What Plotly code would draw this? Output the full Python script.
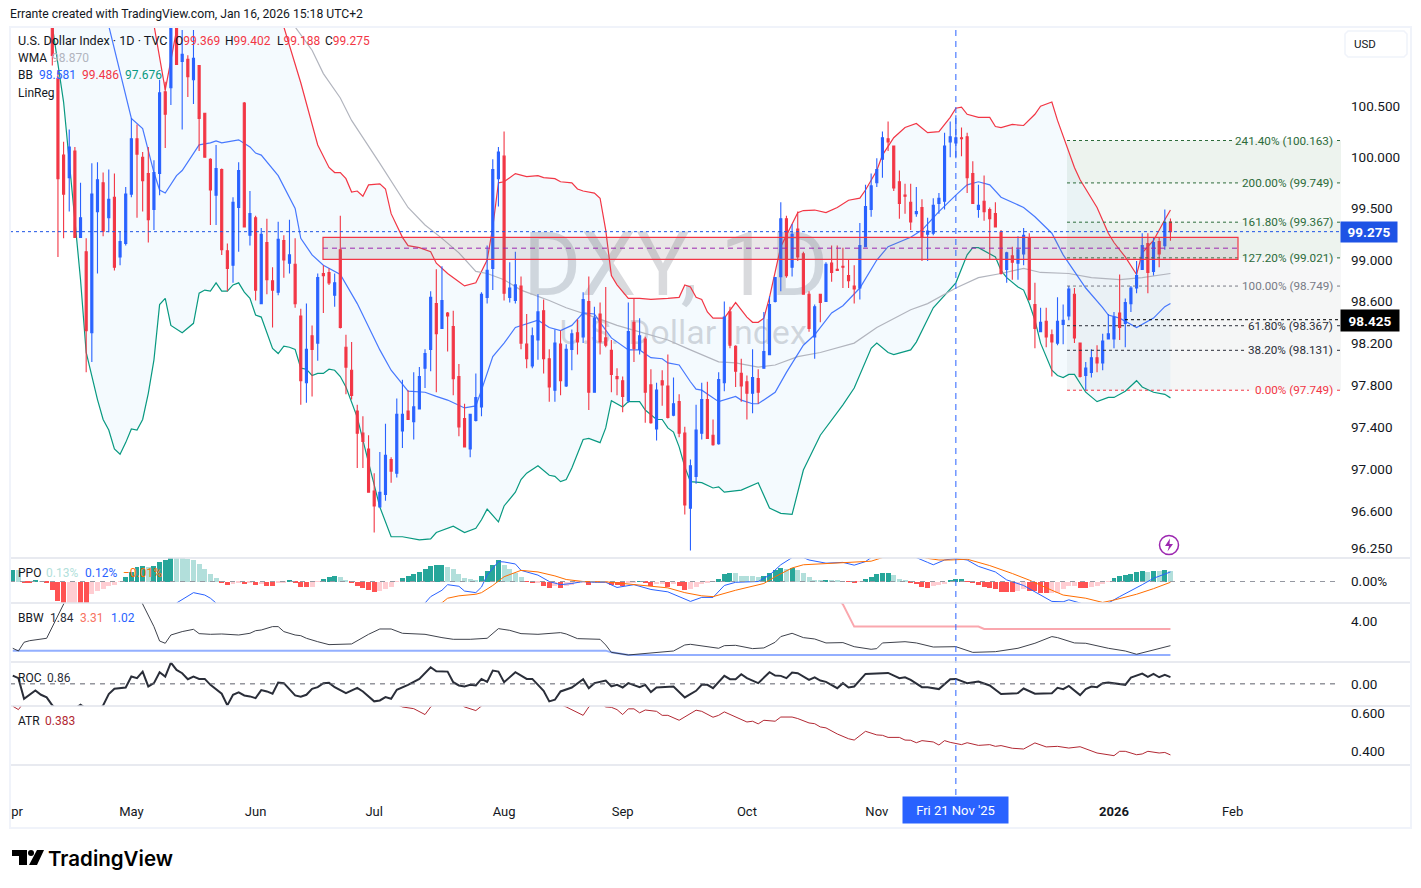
import numpy as np
import plotly.graph_objects as go

# daily candles, one value per bar
candle_open = [
    101.50,100.77,100.02,99.80,100.06,99.22,99.08,98.30,99.47,99.75,
    99.41,99.61,99.03,99.16,99.64,100.18,100.00,99.84,99.49,99.84,
    100.64,100.68,101.40,100.94,100.96,100.76,100.90,100.43,99.98,99.63,
    99.88,99.09,98.95,99.51,100.53,99.24,99.41,98.58,99.17,98.80,
    98.69,99.19,98.97,98.96,98.46,97.82,98.27,98.20,98.87,98.88,
    98.66,99.10,98.16,97.94,97.55,97.34,97.19,96.79,96.64,96.76,
    97.09,96.96,97.36,97.55,97.45,97.57,97.96,98.14,98.58,98.34,
    98.49,98.36,97.88,97.48,97.19,97.46,97.59,98.64,98.92,99.79,
    100.01,98.64,98.61,98.75,98.19,97.98,98.23,98.51,98.05,97.75,
    98.19,97.79,98.14,98.30,98.26,98.60,97.73,98.48,98.25,98.13,
    97.88,97.84,97.65,98.40,98.14,98.24,97.80,97.38,97.84,97.79,
    97.51,97.64,97.34,96.63,96.93,97.34,97.66,97.32,97.24,97.82,
    98.50,98.17,97.91,97.83,97.72,97.86,97.96,98.09,98.60,98.84,
    99.40,98.93,99.30,99.06,98.67,98.26,98.67,98.60,98.97,98.91,
    98.94,98.85,98.75,98.73,99.13,99.49,99.75,99.98,100.18,100.11,
    99.76,99.63,99.56,99.45,99.51,99.25,99.26,99.55,99.57,100.15,
    100.14,100.19,100.20,99.84,99.49,99.57,99.49,99.45,99.27,98.91,
    99.04,98.97,99.06,99.21,98.57,98.31,98.41,98.28,98.20,98.38,
    98.46,98.67,98.20,97.89,97.92,98.06,98.01,98.24,98.24,98.49,
    98.39,98.58,98.73,98.91,99.16,98.89,99.18,99.14,99.369]
candle_high = [
    101.60,100.85,100.15,100.27,100.10,99.75,99.21,99.94,99.95,99.85,
    99.88,99.84,99.28,99.71,100.38,100.32,100.05,100.10,99.97,100.76,
    100.74,101.50,101.50,101.25,101.00,101.25,100.90,100.43,99.99,100.12,
    99.89,99.16,99.61,99.95,100.54,99.67,99.43,99.31,99.40,98.93,
    99.37,99.24,99.39,99.21,98.53,98.58,98.37,98.87,98.95,98.92,
    98.87,99.43,98.28,98.21,97.61,97.50,97.32,96.96,97.16,97.43,
    97.11,97.67,97.85,97.75,97.92,97.97,98.14,98.70,98.91,98.94,
    98.50,98.51,98.00,97.62,97.52,97.91,98.69,99.14,99.98,100.10,
    100.25,98.98,99.08,98.84,98.48,98.35,98.67,98.62,98.14,98.33,
    98.32,98.19,98.33,98.43,98.69,98.84,98.55,98.59,98.74,98.23,
    97.96,97.88,98.59,98.63,98.44,98.26,97.95,97.82,97.94,98.09,
    97.87,97.71,97.40,97.09,97.61,97.82,97.83,97.47,97.92,98.60,
    98.55,98.18,98.05,97.89,98.14,97.95,98.50,98.65,98.83,99.56,
    99.43,99.35,99.47,99.08,98.70,98.57,98.67,98.98,99.14,99.14,
    99.12,99.00,98.95,99.36,99.73,99.84,99.99,100.25,100.35,100.11,
    99.87,99.74,99.74,99.71,99.59,99.41,99.60,99.65,100.24,100.35,
    100.41,100.29,100.24,99.96,99.73,99.82,99.51,99.56,99.29,99.08,
    99.13,99.23,99.31,99.26,98.78,98.54,98.54,98.33,98.64,98.57,
    98.75,98.73,98.20,98.02,98.14,98.18,98.29,98.48,98.50,98.86,
    98.63,98.75,98.99,99.26,99.26,99.22,99.22,99.49,99.402]
candle_low = [
    100.90,99.03,99.21,99.47,99.22,99.22,97.92,98.02,98.87,99.23,
    99.27,98.90,98.95,99.14,99.61,99.41,99.47,99.17,99.29,99.63,
    100.09,100.51,100.91,100.27,100.59,100.52,100.06,100.00,99.34,99.34,
    99.05,98.70,98.78,99.08,99.32,99.14,98.61,98.58,98.67,98.35,
    98.66,98.83,98.87,98.54,97.61,97.63,97.69,98.03,98.49,98.76,
    98.55,98.34,97.71,97.66,97.01,97.01,96.78,96.40,96.64,96.70,
    96.87,96.92,97.20,97.47,97.28,97.57,97.77,97.93,97.73,98.34,
    98.12,97.70,97.31,97.21,97.11,97.45,97.50,98.58,98.71,99.52,
    98.61,98.59,98.58,98.14,97.96,97.96,98.04,97.91,97.64,97.64,
    97.70,97.78,97.94,98.09,98.20,97.56,97.73,98.09,98.16,97.73,
    97.70,97.54,97.63,98.02,98.09,97.44,97.43,97.27,97.60,97.48,
    97.50,97.30,96.57,96.23,96.86,97.28,97.29,97.22,97.23,97.74,
    98.15,97.78,97.64,97.47,97.53,97.62,97.96,98.09,98.59,98.70,
    98.83,98.84,98.99,98.67,98.31,98.05,98.40,98.60,98.79,98.90,
    98.73,98.73,98.58,98.62,99.13,99.42,99.71,99.80,100.06,99.67,
    99.40,99.45,99.29,99.42,98.99,98.99,99.24,99.45,99.49,100.00,
    99.99,100.01,99.65,99.55,99.41,99.38,99.01,99.32,98.86,98.78,
    98.81,98.81,98.95,98.61,98.15,98.31,98.16,97.88,98.18,98.19,
    98.42,98.20,97.87,97.75,97.87,97.92,97.94,98.24,98.15,98.23,
    98.16,98.50,98.68,98.91,98.68,98.85,98.93,99.10,99.188]
candle_close = [
    101.00,99.79,99.64,100.10,99.22,99.41,98.32,99.64,99.78,99.28,
    99.59,98.93,99.18,99.64,100.18,100.03,99.77,99.39,99.85,100.63,
    100.42,101.35,100.91,101.01,100.79,100.97,100.38,100.00,99.68,99.89,
    99.10,98.92,99.56,99.87,99.32,99.45,98.71,99.25,98.81,98.71,
    99.20,99.00,99.05,98.58,97.84,98.14,98.14,98.83,98.85,98.78,
    98.78,98.35,97.97,97.70,97.34,97.26,96.78,96.65,96.78,97.13,
    96.98,97.52,97.52,97.47,97.59,97.88,98.10,98.64,98.29,98.61,
    98.46,97.86,97.40,97.21,97.52,97.68,98.67,98.90,99.88,100.05,
    98.68,98.73,98.76,98.20,98.05,98.27,98.50,98.05,97.78,98.20,
    97.84,98.14,98.29,98.21,98.62,97.73,98.44,98.21,98.18,97.90,
    97.86,97.69,98.31,98.15,98.27,97.73,97.44,97.75,97.80,97.49,
    97.62,97.34,96.66,97.03,97.37,97.66,97.29,97.23,97.85,98.45,
    98.18,97.93,97.79,97.72,97.87,97.73,98.12,98.57,98.83,99.40,
    98.85,99.25,99.03,98.67,98.34,98.55,98.59,98.96,98.88,98.90,
    98.93,98.80,98.72,99.14,99.52,99.72,99.88,100.19,100.15,99.70,
    99.55,99.62,99.37,99.47,99.22,99.28,99.53,99.60,100.11,100.20,
    100.19,100.18,99.80,99.55,99.53,99.47,99.40,99.32,98.87,99.07,
    98.98,99.10,99.24,98.62,98.34,98.40,98.26,98.21,98.41,98.42,
    98.72,98.25,97.88,97.96,98.06,98.01,98.22,98.29,98.45,98.35,
    98.59,98.73,98.85,99.14,98.88,99.17,99.06,99.36,99.275]
candle_bars = list(range(len(candle_open)))

# indicator lines as (bar, value)
bb_upper = [(-1,102.0),(14,102.0),(18,101.3),(20,100.66),(21,100.95),(22,101.25),(24,101.7),(40,101.7),(41,101.28),(44,100.73),(47,100.12),(49,99.90),(50,99.85),(51,99.85),(52,99.79),(53,99.66),(54,99.67),(55,99.62),(56,99.73),(58,99.74),(59,99.69),(60,99.45),(62,99.22),(63,99.14),(65,99.12),(67,99.08),(68,98.97),(70,98.87),(72,98.79),(73,98.75),(75,98.78),(77,99.00),(78,99.32),(79,99.75),(80,99.76),(82,99.84),(84,99.81),(86,99.82),(87,99.80),(89,99.79),(90,99.76),(92,99.75),(93,99.69),(94,99.67),(96,99.65),(97,99.60),(98,99.29),(99,98.85),(100,98.76),(102,98.63),(104,98.63),(106,98.62),(109,98.63),(111,98.64),(112,98.76),(113,98.74),(114,98.64),(115,98.62),(116,98.50),(117,98.44),(119,98.44),(121,98.59),(123,98.45),(124,98.40),(125,98.40),(126,98.44),(127,98.64),(128,98.87),(129,99.13),(132,99.46),(133,99.48),(135,99.485),(137,99.46),(139,99.51),(141,99.58),(143,99.60),(144,99.68),(146,99.87),(147,100.02),(149,100.19),(151,100.29),(153,100.33),(155,100.24),(157,100.25),(159,100.39),(160,100.48),(161,100.49),(162,100.42),(164,100.39),(166,100.39),(167,100.30),(168,100.29),(170,100.32),(172,100.31),(174,100.42),(175,100.50),(177,100.54),(178,100.36),(179,100.20),(181,99.90),(182,99.78),(185,99.51),(187,99.26),(188,99.17),(190,99.03),(192,98.86),(193,99.07),(195,99.19),(197,99.39),(198,99.486)]
bb_lower = [(-1,101.8),(0,101.29),(2,100.54),(4,99.34),(5,98.81),(6,98.11),(8,97.66),(9,97.47),(10,97.37),(11,97.19),(12,97.14),(13,97.25),(14,97.38),(15,97.37),(16,97.47),(17,97.72),(18,98.04),(19,98.57),(20,98.63),(21,98.37),(23,98.30),(25,98.39),(26,98.68),(27,98.71),(28,98.70),(29,98.78),(30,98.70),(31,98.70),(32,98.76),(33,98.78),(34,98.69),(35,98.63),(36,98.47),(37,98.45),(39,98.15),(40,98.10),(41,98.17),(42,98.16),(43,98.14),(44,97.96),(45,97.95),(46,97.89),(47,97.91),(48,97.91),(49,97.95),(50,97.94),(51,97.88),(52,97.78),(54,97.49),(56,97.06),(58,96.64),(60,96.36),(62,96.36),(65,96.33),(67,96.34),(68,96.40),(71,96.46),(73,96.40),(75,96.44),(76,96.52),(77,96.62),(79,96.50),(80,96.65),(82,96.78),(83,96.90),(84,96.96),(86,97.03),(88,96.94),(89,96.93),(90,96.88),(91,96.90),(92,97.01),(94,97.28),(95,97.29),(97,97.25),(98,97.39),(99,97.65),(101,97.59),(102,97.64),(104,97.64),(105,97.56),(107,97.47),(108,97.47),(109,97.39),(110,97.35),(111,97.21),(112,97.02),(113,96.88),(115,96.87),(117,96.82),(118,96.83),(119,96.78),(122,96.80),(125,96.87),(127,96.63),(129,96.58),(131,96.57),(133,96.99),(136,97.32),(140,97.61),(142,97.77),(145,98.15),(146,98.20),(148,98.11),(149,98.09),(152,98.135),(153,98.21),(156,98.54),(160,98.78),(162,99.05),(163,99.12),(164,99.12),(166,99.06),(167,99.03),(168,98.90),(169,98.83),(171,98.74),(172,98.71),(173,98.58),(174,98.42),(175,98.20),(177,97.94),(178,97.89),(179,97.87),(180,97.90),(181,97.90),(183,97.73),(185,97.64),(187,97.68),(188,97.68),(190,97.74),(192,97.84),(193,97.78),(195,97.73),(197,97.71),(198,97.676)]
bb_basis = [(8,101.9),(10,101.29),(14,100.38),(16,100.28),(18,99.85),(19,99.68),(20,99.65),(22,99.82),(23,99.87),(26,100.12),(28,100.14),(29,100.16),(30,100.14),(33,100.17),(35,100.10),(36,100.04),(37,100.02),(40,99.82),(43,99.50),(44,99.21),(46,99.05),(48,98.95),(51,98.86),(54,98.58),(58,98.135),(60,97.94),(63,97.74),(66,97.73),(68,97.69),(70,97.655),(73,97.58),(75,97.60),(76,97.75),(78,98.07),(80,98.20),(82,98.35),(86,98.42),(88,98.35),(90,98.32),(92,98.37),(94,98.49),(96,98.48),(97,98.40),(99,98.25),(102,98.135),(104,98.135),(106,98.06),(108,98.05),(109,98.01),(111,97.99),(113,97.83),(114,97.76),(115,97.75),(118,97.64),(121,97.69),(122,97.655),(124,97.62),(125,97.62),(128,97.73),(130,97.92),(133,98.18),(135,98.28),(138,98.49),(140,98.56),(143,98.73),(146,99.00),(148,99.13),(152,99.22),(154,99.29),(157,99.47),(160,99.63),(162,99.73),(164,99.76),(166,99.73),(168,99.61),(172,99.51),(174,99.42),(177,99.26),(179,99.05),(183,98.73),(186,98.54),(187,98.47),(189,98.44),(192,98.35),(195,98.44),(197,98.55),(198,98.581)]
wma_line = [(40,101.7),(43,101.28),(46,101.05),(48,100.82),(51,100.58),(53,100.36),(58,99.94),(63,99.51),(66,99.34),(69,99.21),(72,99.07),(75,98.89),(77,98.87),(80,98.81),(83,98.71),(88,98.61),(91,98.54),(94,98.49),(96,98.45),(100,98.37),(104,98.31),(109,98.23),(113,98.135),(118,98.02),(121,98.01),(125,97.97),(128,97.99),(132,98.07),(136,98.11),(142,98.20),(146,98.35),(152,98.52),(155,98.58),(160,98.73),(164,98.83),(168,98.87),(172,98.92),(175,98.88),(180,98.87),(184,98.83),(189,98.81),(193,98.83),(198,98.87)]

# PPO histogram starts 7 bars left of the first visible candle
ppo_hist = [
    .15,.14,-.01,-.02,.02,.005,-.025,
    -.11,-.24,-.30,-.29,-.28,-.30,-.31,-.16,-.12,-.09,-.06,-.05,-.005,
    .06,.12,.18,.19,.18,.20,.25,.27,.30,.295,.29,.285,.27,.22,.155,.09,.045,
    -.01,-.05,-.03,-.02,-.035,-.025,-.05,-.03,-.055,-.056,-.02,-.012,.008,-.016,-.07,-.072,-.068,-.004,
    .033,.055,.07,.058,.016,-.012,-.055,-.083,-.11,-.133,-.125,-.09,-.07,-.004,
    .04,.063,.09,.125,.16,.20,.205,.21,.183,.155,.09,.038,.03,.025,.075,.13,.21,.27,.205,.155,.11,.055,
    -.004,-.025,-.02,-.055,-.08,-.055,-.08,-.058,-.046,-.025,-.012,-.038,-.016,-.012,-.011,-.042,-.043,-.058,-.016,-.015,.004,
    -.016,-.055,-.03,-.028,-.063,-.033,-.058,-.11,-.10,-.067,-.033,-.025,-.004,
    .033,.10,.11,.108,.075,.07,.063,.058,.075,.11,.14,.17,.155,.17,.14,.105,.058,.025,.012,.013,.008,.007,.006,
    -.004,-.012,-.004,.03,.055,.088,.104,.105,.08,.03,.008,-.016,-.033,-.07,-.08,-.058,-.05,-.03,.02,.03,.031,
    -.004,-.02,-.05,-.07,-.083,-.088,-.133,-.134,-.135,-.117,-.092,-.117,-.125,-.14,-.15,-.14,-.139,-.092,-.058,-.057,-.083,-.084,-.067,-.058,-.033,-.004,
    .04,.063,.083,.096,.117,.1375,.125,.138,.136,.139,.13]
ppo_bars = list(range(-7, len(ppo_hist) - 7))
ppo_line = [(-7,-.6),(10,-.9),(20,-.5),(22,-.27),(25,-.14),(27,-.17),(28,-.21),(29,-.27),(32,-.6),(50,-.8),(62,-.5),(66,-.27),(67,-.19),(69,-.11),(70,-.04),(72,-.06),(73,-.12),(75,-.14),(76,-.07),(77,.08),(79,.25),(80,.245),(82,.22),(83,.14),(86,.08),(88,0),(90,-.04),(92,-.025),(94,0),(96,-.01),(98,-.01),(100,-.075),(103,-.04),(106,-.10),(109,-.13),(111,-.19),(113,-.25),(115,-.2),(117,-.2),(119,-.05),(121,-.01),(125,0),(127,.08),(129,.21),(131,.30),(133,.30),(134,.27),(137,.23),(140,.24),(142,.205),(144,.25),(145,.30),(148,.38),(151,.38),(153,.30),(155,.24),(156,.21),(158,.27),(160,.29),(162,.27),(164,.19),(167,.12),(169,.02),(172,-.05),(175,-.17),(177,-.25),(179,-.255),(180,-.23),(182,-.27),(184,-.33),(186,-.31),(187,-.267),(189,-.19),(193,-.04),(195,.04),(198,.12)]
ppo_signal = [(-7,-.5),(30,-.5),(60,-.5),(69,-.267),(70,-.21),(72,-.18),(75,-.16),(76,-.14),(78,-.05),(80,.06),(82,.12),(83,.14),(86,.12),(89,.07),(91,.025),(94,0),(98,-.004),(102,-.03),(105,-.05),(109,-.08),(112,-.14),(115,-.18),(117,-.19),(121,-.11),(126,-.025),(128,.06),(131,.17),(133,.21),(137,.225),(142,.24),(145,.255),(147,.30),(150,.36),(153,.33),(155,.29),(157,.27),(159,.27),(162,.28),(166,.20),(170,.10),(173,.017),(177,-.11),(179,-.17),(183,-.21),(186,-.263),(188,-.233),(192,-.16),(195,-.09),(198,-.01)]

bbw_line = [(-7,1.61),(-6,1.37),(-5,2.14),(-4,2.28),(-1,2.49),(2,5.48),(3,6.5),(15,6.5),(16,5.48),(18,3.52),(19,2.25),(20,2.05),(21,2.78),(23,3.08),(25,3.28),(26,2.90),(28,2.84),(30,2.87),(33,2.78),(35,2.93),(36,3.16),(37,3.22),(39,3.52),(40,3.52),(41,3.08),(43,2.78),(44,2.72),(45,2.49),(47,2.19),(49,1.93),(53,1.99),(54,2.28),(56,2.84),(58,3.31),(60,3.31),(62,2.93),(66,2.84),(69,2.55),(71,2.40),(74,2.40),(77,2.49),(79,3.34),(81,3.19),(83,2.90),(86,2.84),(90,2.99),(91,2.87),(93,2.46),(97,2.40),(98,1.90),(99,1.25),(102,1.02),(105,1.14),(110,1.37),(112,1.90),(113,1.96),(118,1.61),(119,1.84),(121,1.87),(124,1.58),(126,1.64),(128,2.14),(129,2.64),(131,2.93),(133,2.55),(135,2.43),(137,2.08),(140,2.11),(142,1.75),(145,1.52),(146,1.58),(147,2.08),(151,2.19),(153,2.08),(156,1.72),(158,1.75),(160,1.75),(163,1.25),(167,1.31),(171,1.61),(174,2.05),(177,2.64),(178,2.55),(181,2.08),(183,2.05),(187,1.61),(190,1.37),(192,1.08),(195,1.46),(198,1.84)]
bbw_lowest = [(-7,1.40),(98,1.40),(99,1.25),(102,1.02),(198,1.02)]
bbw_highest = [(139,6.0),(140,5.48),(142,3.52),(164,3.52),(165,3.31),(198,3.31)]

roc_line = [(-7,1.07),(-6,.73),(-5,-1.92),(-3,-.85),(-2,-1.41),(-1,-1.75),(0,-2.78),(2,-4),(4,-3.2),(5,-2.7),(6,-3.2),(8,-3.5),(9,-2.78),(10,-1.32),(11,-.64),(13,-.47),(14,.94),(15,.73),(16,1.58),(17,-.34),(18,.09),(19,1.50),(20,.94),(21,2.74),(22,1.79),(23,1.37),(24,.60),(25,.94),(26,.64),(27,.64),(28,-.13),(30,-1.28),(31,-2.78),(32,-1.41),(33,-1.11),(34,-1.50),(35,-1.62),(36,-1.84),(37,-.81),(38,-.98),(39,-1.28),(40,.17),(41,.09),(42,-.77),(43,-1.50),(44,-1.67),(45,-1.41),(46,-.64),(47,-.43),(48,.09),(49,.13),(50,-.43),(51,-.77),(52,-1.20),(54,-.51),(55,-.98),(57,-2.26),(58,-2.14),(59,-1.71),(60,-1.92),(61,-.77),(63,-.13),(65,.64),(67,2.14),(68,1.62),(70,1.58),(71,.21),(72,-.21),(73,-.34),(74,-.13),(75,-.21),(76,.64),(77,.25),(78,1.71),(79,1.58),(80,.21),(82,1.50),(84,.64),(85,.64),(87,-.90),(88,-2.26),(89,-2.05),(90,-.98),(92,-.47),(94,.60),(95,-.56),(96,.09),(98,.43),(99,-.34),(100,-.13),(101,-.47),(102,.09),(104,-.43),(105,-.13),(106,-1.07),(107,-.47),(110,-.34),(112,-1.75),(114,-.90),(115,-.13),(116,-.13),(117,-.56),(119,1.03),(120,.60),(121,.60),(122,1.24),(123,.73),(124,.38),(125,.09),(127,1.50),(128,1.07),(129,1.03),(130,.73),(131,1.45),(132,1.37),(134,.51),(135,.85),(136,.43),(137,.26),(139,-.56),(140,.09),(141,-.47),(142,-.34),(144,1.28),(146,1.37),(148,1.41),(150,.73),(151,.85),(152,.51),(154,-.43),(155,-.43),(157,-.68),(159,.60),(160,.64),(162,.09),(164,.30),(166,-.21),(168,-1.32),(170,-1.24),(171,-1.20),(172,-.60),(174,-1.28),(177,-1.20),(178,-.51),(179,-.68),(180,-.26),(182,-1.45),(183,-.68),(184,-.34),(185,-.43),(186,.09),(187,.17),(190,-.13),(191,.81),(193,1.32),(194,.90),(195,1.28),(196,.85),(197,1.15),(198,.86)]

atr_line = [(-7,.639),(-6,.621),(-5,.66),(60,.66),(62,.635),(64,.626),(66,.595),(67,.635),(68,.66),(72,.66),(73,.635),(75,.616),(76,.64),(77,.66),(89,.66),(91,.635),(94,.591),(95,.635),(96,.66),(97,.66),(98,.635),(99,.633),(100,.621),(101,.595),(102,.625),(103,.625),(104,.604),(105,.619),(107,.612),(108,.591),(109,.591),(111,.565),(114,.618),(115,.612),(117,.581),(118,.591),(119,.609),(123,.556),(124,.56),(125,.546),(126,.565),(128,.56),(129,.582),(131,.582),(132,.574),(134,.551),(135,.547),(136,.53),(137,.525),(139,.493),(141,.468),(142,.461),(144,.507),(146,.488),(147,.486),(148,.475),(150,.475),(151,.461),(152,.46),(153,.447),(154,.458),(156,.451),(157,.435),(158,.458),(159,.449),(161,.437),(162,.447),(164,.433),(166,.437),(167,.428),(168,.432),(170,.418),(172,.414),(174,.446),(176,.425),(178,.428),(180,.419),(182,.426),(185,.393),(188,.379),(189,.402),(190,.402),(192,.384),(193,.388),(194,.402),(196,.393),(197,.396),(198,.383)]

# fibonacci levels: ratio text, price, colour
fib_labels = ["241.40%", "200.00%", "161.80%", "127.20%", "100.00%", "61.80%", "38.20%", "0.00%"]
fib_prices = [100.163, 99.749, 99.367, 99.021, 98.749, 98.367, 98.131, 97.749]
fib_colors = ["#2c6b3a", "#2c6b3a", "#2c6b3a", "#2c6b3a", "#787b86", "#2a2e39", "#2a2e39", "#f23645"]
fib_fills = ["rgba(60,120,70,.09)", "rgba(60,120,70,.05)", "rgba(60,120,70,.09)", "rgba(120,123,134,.06)",
             "rgba(120,123,134,.07)", "rgba(120,123,134,.07)", "rgba(120,123,134,.07)"]
fib_line_end = [1232, 1238, 1238, 1238, 1238, 1245, 1245, 1249]

price_ticks = [96.25, 96.6, 97.0, 97.4, 97.8, 98.2, 98.6, 99.0, 99.5, 100.0, 100.5]
price_tick_text = ["96.250", "96.600", "97.000", "97.400", "97.800", "98.200", "98.600", "99.000", "99.500", "100.000", "100.500"]
month_bars = [-6.25, 14, 36, 57, 80, 101, 123, 146, 188, 209]
month_text = ["pr", "May", "Jun", "Jul", "Aug", "Sep", "Oct", "Nov", "<b>2026</b>", "Feb"]

zone_top, zone_bottom, zone_mid = 99.22, 99.007, 99.115
last_close, last_mark = 99.275, 98.425

FONT = "Roboto"
BLUE, RED, GREEN, ORANGE = "#2962ff", "#f23645", "#089981", "#ff6d00"
TEXT = "#131722"

# page body has an 8px margin, so the figure is 16px smaller than the window
fig_w, fig_h = 1405, 872
left, right, top, bottom = 10, 1341, 28, 828


def px(x):
    return (x - left) / (right - left)


def py(y):
    return (bottom - y) / (bottom - top)


def line(points, yaxis, color, width=1.2, opacity=1, **kw):
    xs, ys = zip(*points)
    return go.Scatter(x=xs, y=ys, yaxis=yaxis, mode="lines", opacity=opacity,
                      line=dict(color=color, width=width), hoverinfo="skip", **kw)


def label(text, x, y, color=TEXT, size=12, **kw):
    # annotations pad their text by about 2px on the left
    fig.add_annotation(text=text, x=px(x - 2), y=py(y), xref="paper", yref="paper", showarrow=False,
                       xanchor="left", yanchor="middle",
                       font=dict(family=kw.pop("family", FONT), size=size, color=color, weight=kw.pop("weight", 400)), **kw)


def paper_path(points, **kw):
    path = "M " + " L ".join(f"{px(x)} {py(y)}" for x, y in points) + " Z"
    fig.add_shape(type="path", path=path, xref="paper", yref="paper", **kw)


fig = go.Figure()

# watermark goes first so that it sits behind everything
fig.add_trace(go.Scatter(x=[110.4], y=[98.88], mode="text", text=["DXY, 1D"], hoverinfo="skip",
                         textfont=dict(family=FONT, size=89, color="rgba(120,123,134,.28)")))
fig.add_trace(go.Scatter(x=[111.7], y=[98.27], mode="text", text=["U.S. Dollar Index"], hoverinfo="skip",
                         textfont=dict(family=FONT, size=34, color="rgba(120,123,134,.28)")))

fig.add_trace(line(bb_upper, "y", RED, opacity=.85))
fig.add_trace(line(bb_lower, "y", GREEN, opacity=.85, fill="tonexty", fillcolor="rgba(33,150,243,.05)"))
fig.add_trace(line(wma_line, "y", "#b2b5be"))
fig.add_trace(line(bb_basis, "y", BLUE, opacity=.85))

fig.add_trace(go.Candlestick(
    x=candle_bars, open=candle_open, high=candle_high, low=candle_low, close=candle_close, yaxis="y6",
    increasing=dict(line=dict(color=BLUE, width=1.1), fillcolor=BLUE),
    decreasing=dict(line=dict(color=RED, width=1.1), fillcolor=RED),
    whiskerwidth=0, hoverinfo="skip"))

# histogram colours follow the direction of the change from bar to bar
hist_colors = []
for n, v in enumerate(ppo_hist):
    prev = ppo_hist[n - 1] if n else v
    if v >= 0:
        hist_colors.append("#26a69a" if v >= prev else "#b2dfdb")
    else:
        hist_colors.append("#ff5252" if v <= prev else "#ffcdd2")
fig.add_trace(go.Bar(x=ppo_bars, y=ppo_hist, yaxis="y2", marker=dict(color=hist_colors, line=dict(width=0)),
                     width=.88, hoverinfo="skip"))
fig.add_trace(line(ppo_line, "y2", BLUE, width=1))
fig.add_trace(line(ppo_signal, "y2", ORANGE, width=1))

fig.add_trace(line(bbw_lowest, "y3", BLUE, width=2, opacity=.5))
fig.add_trace(line(bbw_highest, "y3", "#f7525f", width=2, opacity=.5))
fig.add_trace(line(bbw_line, "y3", "#2a2e39", width=1, opacity=.9))
fig.add_trace(line(roc_line, "y4", "#2a2e39", width=2))
fig.add_trace(line(atr_line, "y5", "#b22833", width=1))

# fibonacci zones and levels
for n, fill in enumerate(fib_fills):
    fig.add_shape(type="rect", xref="paper", yref="y", x0=px(1067), x1=1,
                  y0=fib_prices[n], y1=fib_prices[n + 1], fillcolor=fill, line=dict(width=0), layer="below")
for name, price, color, end in zip(fib_labels, fib_prices, fib_colors, fib_line_end):
    fig.add_shape(type="line", xref="paper", yref="y", x0=px(1067), x1=px(end), y0=price, y1=price,
                  line=dict(color=color, width=1, dash="dot"))
    fig.add_shape(type="line", xref="paper", yref="y", x0=px(1337), x1=1, y0=price, y1=price,
                  line=dict(color=color, width=1, dash="dot"))
    fig.add_annotation(text=f"{name} ({price:.3f})", x=px(1335), y=np.log10(price), xref="paper", yref="y",
                       showarrow=False, xanchor="right", yanchor="middle",
                       font=dict(family=FONT, size=11.7, color=color))

# support/resistance box
fig.add_shape(type="rect", xref="paper", yref="y", x0=px(323), x1=px(1238), y0=zone_bottom, y1=zone_top,
              fillcolor="rgba(130,110,120,.17)", line=dict(color=RED, width=1.2))
fig.add_shape(type="line", xref="paper", yref="y", x0=px(323), x1=px(1238), y0=zone_mid, y1=zone_mid,
              line=dict(color="#9c27b0", width=1, dash="5px,4px"))

# price lines and crosshair
fig.add_shape(type="line", xref="paper", yref="y", x0=0, x1=1, y0=last_close, y1=last_close,
              line=dict(color="#1e53e5", width=1, dash="dot"))
fig.add_shape(type="line", xref="paper", yref="y", x0=px(1125), x1=1, y0=last_mark, y1=last_mark,
              line=dict(color="#000000", width=1, dash="dot"))
fig.add_shape(type="line", xref="x", yref="paper", x0=160, x1=160, y0=py(795), y1=py(28),
              line=dict(color=BLUE, width=1, dash="6px,5px"))
fig.add_shape(type="line", xref="paper", yref="y2", x0=0, x1=px(1337), y0=0, y1=0,
              line=dict(color="#9598a1", width=1, dash="5px,5px"))
fig.add_shape(type="line", xref="paper", yref="y4", x0=0, x1=px(1337), y0=0, y1=0,
              line=dict(color="#5d606b", width=1, dash="5px,5px"))

# panel separators and outer frame
for sep in [558, 603, 662, 706, 765]:
    fig.add_shape(type="line", xref="paper", yref="paper", x0=0, x1=px(1411), y0=py(sep), y1=py(sep),
                  line=dict(color="#e0e3eb", width=1.3))
paper_path([(10, 27), (1411, 27), (1411, 828), (10, 828)], line=dict(color="#f0f3fa", width=2))

# USD box
paper_path([(1348, 31), (1404, 31), (1407, 34), (1407, 54), (1404, 57), (1348, 57), (1345, 54), (1345, 34)],
           line=dict(color="#f0f3fa", width=1.5), fillcolor="white")
label("USD", 1354, 44, size=11.5)

# right side price tags
fig.add_annotation(text="<b>99.275</b>", x=px(1369), y=py(231.5), xref="paper", yref="paper", showarrow=False,
                   xanchor="center", yanchor="middle", width=54, height=18, bgcolor="#1e53e5",
                   font=dict(family=FONT, size=13.5, color="white"))
fig.add_annotation(text="<b>98.425</b>", x=px(1370), y=py(320), xref="paper", yref="paper", showarrow=False,
                   xanchor="center", yanchor="middle", width=56, height=19, bgcolor="#000000",
                   font=dict(family=FONT, size=13.5, color="white"))

# crosshair date tag
fig.add_annotation(text="Fri 21 Nov '25", x=px(955.5), y=py(810), xref="paper", yref="paper", showarrow=False,
                   xanchor="center", yanchor="middle", width=103, height=24, bgcolor=BLUE,
                   font=dict(family=FONT, size=13, color="white"))

# legend texts
label("Errante created with TradingView.com, Jan 16, 2026 15:18 UTC+2", 10, 14, size=12.2)
label("U.S. Dollar Index · 1D · TVC", 18, 41, size=12.6)
for head, value, x in [("O", "99.369", 175), ("H", "99.402", 225), ("L", "99.188", 277), ("C", "99.275", 325)]:
    label(f'{head}<span style="color:{RED}">{value}</span>', x, 41)
label("WMA", 18, 58)
label("98.870", 52, 58, color="#b2b5be")
label("BB", 18, 75)
label("98.581", 39, 75, color=BLUE)
label("99.486", 82, 75, color=RED)
label("97.676", 125, 75, color=GREEN)
label("LinReg", 18, 93)
label("PPO", 18, 573)
label("0.13%", 46, 573, color="#b2dfdb")
label("0.12%", 85, 573, color=BLUE)
label("−0.01%", 123, 573, color=ORANGE)
label("BBW", 18, 618)
label("1.84", 50, 618, color="#2a2e39")
label("3.31", 80, 618, color="#f7725f")
label("1.02", 111, 618, color=BLUE)
label("ROC", 18, 678)
label("0.86", 47, 678, color="#2a2e39")
label("ATR", 18, 721)
label("0.383", 45, 721, color="#b22833")

# alert icon
fig.add_shape(type="circle", xref="paper", yref="paper", x0=px(1159.5), x1=px(1178.5), y0=py(554.5), y1=py(535.5),
              line=dict(color="#9c27b0", width=1.5), fillcolor="white")
paper_path([(1170, 538.5), (1165, 546), (1169, 546), (1167.5, 551.5), (1173, 544), (1169.5, 544)],
           fillcolor="#9c27b0", line=dict(width=0))

# logo
paper_path([(12, 850), (27, 850), (27, 865), (19, 865), (19, 856), (12, 856)], fillcolor="#000000", line=dict(width=0))
fig.add_shape(type="circle", xref="paper", yref="paper", x0=px(28), x1=px(34), y0=py(856), y1=py(850),
              fillcolor="#000000", line=dict(width=0))
paper_path([(37, 850), (44, 850), (37, 865), (29, 865)], fillcolor="#000000", line=dict(width=0))
label("TradingView", 48, 858, color="#000000", size=20.5, family="Inter", weight=600)

main_range = [np.log10(96.16), np.log10(101.27)]
tick_font = dict(family=FONT, size=13.5, color=TEXT)
fig.update_layout(
    width=fig_w, height=fig_h, margin=dict(l=left - 8, r=fig_w - (right - 8), t=top - 8, b=fig_h - (bottom - 8), pad=0),
    paper_bgcolor="white", plot_bgcolor="white", showlegend=False, boxgap=.48, bargap=0, hovermode=False,
    xaxis=dict(range=[-7.49, 228.2], anchor="free", position=py(802), showgrid=False, zeroline=False,
               tickmode="array", tickvals=month_bars, ticktext=month_text, ticks="",
               tickfont=dict(family=FONT, size=13, color=TEXT), rangeslider=dict(visible=False)),
    yaxis=dict(domain=[py(558), py(28)], type="log", range=main_range, side="right", showgrid=False, zeroline=False,
               tickmode="array", tickvals=price_ticks, ticktext=price_tick_text, ticks="", ticklabelstandoff=9,
               tickfont=tick_font),
    yaxis6=dict(type="log", range=main_range, overlaying="y", side="right", visible=False),
    yaxis2=dict(domain=[py(603), py(558)], range=[-.27, .295], side="right", showgrid=False, zeroline=False,
                tickmode="array", tickvals=[0], ticktext=["0.00%"], ticks="", ticklabelstandoff=9, tickfont=tick_font),
    yaxis3=dict(domain=[py(662), py(603)], range=[.40, 5.60], side="right", showgrid=False, zeroline=False,
                tickmode="array", tickvals=[4], ticktext=["4.00"], ticks="", ticklabelstandoff=9, tickfont=tick_font),
    yaxis4=dict(domain=[py(706), py(662)], range=[-2.86, 2.82], side="right", showgrid=False, zeroline=False,
                tickmode="array", tickvals=[0], ticktext=["0.00"], ticks="", ticklabelstandoff=9, tickfont=tick_font),
    yaxis5=dict(domain=[py(765), py(706)], range=[.33, .64], side="right", showgrid=False, zeroline=False,
                tickmode="array", tickvals=[.4, .6], ticktext=["0.400", "0.600"], ticks="", ticklabelstandoff=9,
                tickfont=tick_font),
)

fig.write_html("out.html")
